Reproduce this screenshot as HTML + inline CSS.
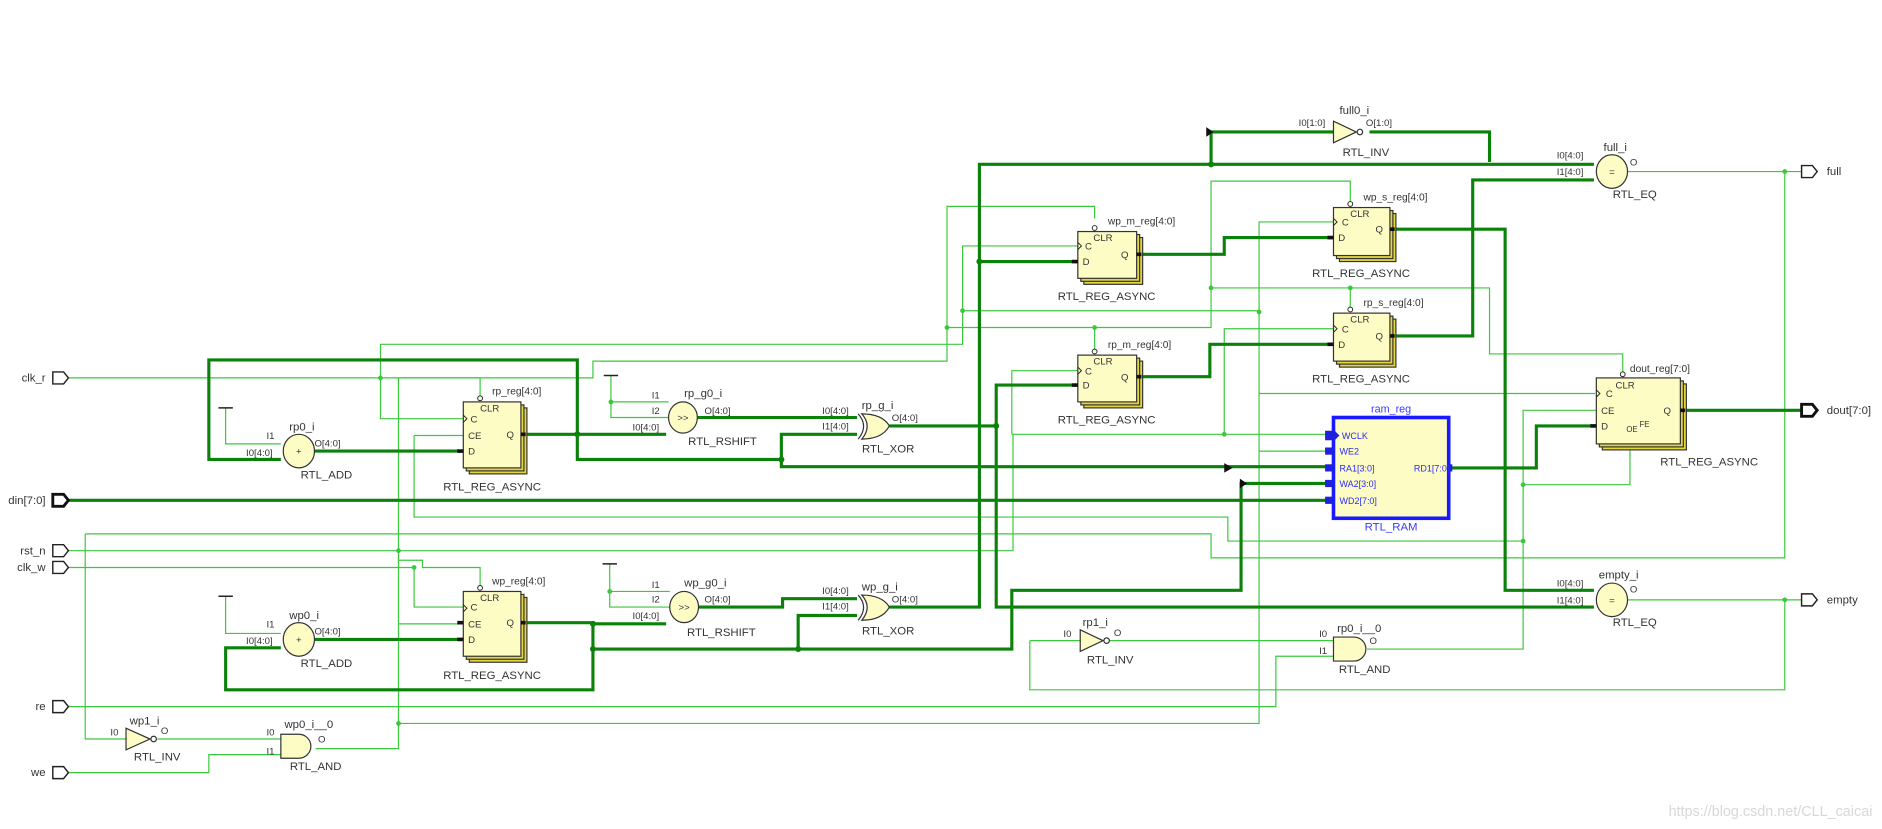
<!DOCTYPE html>
<html><head><meta charset="utf-8"><style>
html,body{margin:0;padding:0;background:#fff;}
svg{display:block;}
text{font-family:"Liberation Sans",sans-serif;fill:#333;}
.t{stroke:#3cc83c;stroke-width:1;fill:none;}
.k{stroke:#0a820a;stroke-width:2.6;fill:none;}
.p{font-size:8px;}
.l{font-size:9.5px;}
.rn{font-size:8.5px;}
.b{fill:#fdfcc4;stroke:#333;stroke-width:1;}
.s{fill:#e4d640;stroke:#333;stroke-width:1;}
.pin{stroke:#111;stroke-width:3;}
.pt{fill:#fff;stroke:#222;stroke-width:1.2;}
.ptk{fill:#fff;stroke:#111;stroke-width:2.4;}
.dot{fill:#3cc83c;}
.dk{fill:#0a820a;}
.bl{fill:#2020e0;}
</style></head><body>
<svg width="1882" height="829" viewBox="0 0 1568 691" preserveAspectRatio="none" xmlns="http://www.w3.org/2000/svg">
<rect width="1568" height="691" fill="#fff"/>

<g class="t">
<path d="M57,315 H494 V301 H789 V172 H912 V182"/>
<path d="M317,315 V287 H802 V205 H898"/>
<path d="M317,315 V349 H386"/>
<path d="M332,459 V315 H400 V330"/>
<path d="M332,459 V467 H352 V473 H400 V489"/>
<path d="M332,459 V624 H263"/>
<path d="M332,603 H1049 V185 H1111"/>
<path d="M1049,376 H1111"/>
<path d="M1049,328 H1329"/>
<path d="M802,259 H1049"/>
<path d="M789,273 H1009 V151 H1125 V170"/>
<path d="M912,273 V293"/>
<path d="M1009,240 H1241 V295 H1352 V313"/>
<path d="M1125,240 V258"/>
<path d="M843,362 V309 H898"/>
<path d="M843,362 H1111"/>
<path d="M1020,362 V274 H1111"/>
<path d="M57,459 H844 V362"/>
<path d="M57,473 H345 V506 H386"/>
<path d="M345,363 H386 M345,363 V431 H1023 V451 H1269"/>
<path d="M71,445 H1009 V465 H1487 V143"/>
<path d="M71,445 V616 H105"/>
<path d="M131,616 H234"/>
<path d="M57,644 H174 V629 H234"/>
<path d="M332,520 H386"/>
<path d="M57,589 H1063 V547 H1111"/>
<path d="M858,534 H900 M923,534 H1111"/>
<path d="M858,534 V575 H1487 V500"/>
<path d="M1139,541 H1269 V342 H1330"/>
<path d="M1269,404 H1358 V372"/>
<path d="M1356,143 H1501"/>
<path d="M1356,500 H1501"/>
<path d="M188,340 V370 H234"/>
<path d="M188,497 V528 H234"/>
<path d="M509,313 V348 H557 M509,335 H557"/>
<path d="M508,470 V506 H558 M508,493 H558"/>
</g>
<g stroke="#222" stroke-width="1.2">
<path d="M182,340 H194 M182,497 H194 M503,313 H515 M502,470 H514"/>
</g>

<g class="k">
<path d="M481,362 V300 H174 V383 H234"/>
<path d="M262,376 H386"/>
<path d="M434,362 H555"/>
<path d="M481,362 V383 H651 V389 H1111"/>
<path d="M651,383 V362 H714"/>
<path d="M581,348 H714"/>
<path d="M741,355 H830 V321 H898"/>
<path d="M830,355 V506 H1328"/>
<path d="M262,533 H386"/>
<path d="M434,519 H494 V575 H188 V540 H234"/>
<path d="M494,520 H555"/>
<path d="M494,541 H843 V492 H1034 V403 H1111"/>
<path d="M665,541 V513 H714"/>
<path d="M582,506 H652 V499 H714"/>
<path d="M741,506 H816 V137 H1328"/>
<path d="M816,218 H898"/>
<path d="M1009,137 V110 H1111 M1141,110 H1241 V135"/>
<path d="M947,212 H1020 V198 H1111"/>
<path d="M947,314 H1008 V287 H1111"/>
<path d="M1158,191 H1254 V492 H1328"/>
<path d="M1158,280 H1227 V150 H1328"/>
<path d="M57,417 H1111"/>
<path d="M1207,390 H1280 V355 H1330"/>
<path d="M1400,342 H1501"/>
</g>
<g class="dot">
<circle cx="317" cy="315" r="2"/><circle cx="332" cy="459" r="2"/><circle cx="345" cy="473" r="2"/><circle cx="332" cy="603" r="2"/>
<circle cx="789" cy="273" r="2"/><circle cx="802" cy="259" r="2"/><circle cx="912" cy="273" r="2"/><circle cx="1009" cy="240" r="2"/>
<circle cx="1125" cy="240" r="2"/><circle cx="1049" cy="260" r="2"/><circle cx="1020" cy="362" r="2"/><circle cx="1269" cy="404" r="2"/>
<circle cx="1269" cy="451" r="2"/><circle cx="1487" cy="143" r="2"/><circle cx="1487" cy="500" r="2"/><circle cx="509" cy="335" r="2"/><circle cx="508" cy="493" r="2"/>
</g>
<g class="dk">
<circle cx="481" cy="362" r="2.5"/><circle cx="651" cy="383" r="2.5"/><circle cx="816" cy="218" r="2.5"/><circle cx="830" cy="355" r="2.5"/>
<circle cx="494" cy="520" r="2.5"/><circle cx="494" cy="541" r="2.5"/><circle cx="665" cy="541" r="2.5"/><circle cx="1009" cy="137" r="2.5"/>
</g>
<g fill="#111"><polygon points="1005,106 1011,110 1005,114"/><polygon points="1020,386 1027,390 1020,394"/><polygon points="1033,399 1039,403 1033,407"/></g>

<g class="pt">
<polygon points="44,310 53,310 57,315 53,320 44,320"/>
<polygon points="44,454 53,454 57,459 53,464 44,464"/>
<polygon points="44,468 53,468 57,473 53,478 44,478"/>
<polygon points="44,584 53,584 57,589 53,594 44,594"/>
<polygon points="44,639 53,639 57,644 53,649 44,649"/>
<polygon points="1501,138 1510,138 1514,143 1510,148 1501,148"/>
<polygon points="1501,495 1510,495 1514,500 1510,505 1501,505"/>
</g>
<g class="ptk">
<polygon points="44,412 53,412 57,417 53,422 44,422"/>
<polygon points="1501,337 1510,337 1514,342 1510,347 1501,347"/>
</g>
<g class="l">
<text x="38" y="318" text-anchor="end">clk_r</text>
<text x="38" y="420" text-anchor="end">din[7:0]</text>
<text x="38" y="462" text-anchor="end">rst_n</text>
<text x="38" y="476" text-anchor="end">clk_w</text>
<text x="38" y="592" text-anchor="end">re</text>
<text x="38" y="647" text-anchor="end">we</text>
<text x="1522" y="146">full</text>
<text x="1522" y="345">dout[7:0]</text>
<text x="1522" y="503">empty</text>
</g>

<g>
<rect class="s" x="391" y="340" width="48" height="55"/><rect class="s" x="388.5" y="337.5" width="48" height="55"/><rect class="b" x="386" y="335" width="48" height="55"/>
<rect class="s" x="391" y="498" width="48" height="54"/><rect class="s" x="388.5" y="495.5" width="48" height="54"/><rect class="b" x="386" y="493" width="48" height="54"/>
<rect class="s" x="903" y="198" width="49" height="39"/><rect class="s" x="900.5" y="195.5" width="49" height="39"/><rect class="b" x="898" y="193" width="49" height="39"/>
<rect class="s" x="903" y="301" width="49" height="39"/><rect class="s" x="900.5" y="298.5" width="49" height="39"/><rect class="b" x="898" y="296" width="49" height="39"/>
<rect class="s" x="1116" y="178" width="47" height="40"/><rect class="s" x="1113.5" y="175.5" width="47" height="40"/><rect class="b" x="1111" y="173" width="47" height="40"/>
<rect class="s" x="1116" y="266" width="47" height="40"/><rect class="s" x="1113.5" y="263.5" width="47" height="40"/><rect class="b" x="1111" y="261" width="47" height="40"/>
<rect class="s" x="1335" y="320" width="70" height="55"/><rect class="s" x="1332.5" y="317.5" width="70" height="55"/><rect class="b" x="1330" y="315" width="70" height="55"/>
</g>
<g class="pin">
<path d="M381,376 H386 M434,362 H438 M381,519 H386 M381,533 H386 M434,519 H438 M893,218 H898 M947,212 H951 M893,321 H898 M947,314 H951 M1106,198 H1111 M1158,191 H1162 M1106,287 H1111 M1158,280 H1162 M1325,355 H1330 M1400,342 H1404"/>
</g>
<g fill="#fff" stroke="#222" stroke-width="0.8">
<circle cx="400" cy="332" r="2"/><circle cx="400" cy="490" r="2"/><circle cx="912" cy="190" r="2"/><circle cx="912" cy="293" r="2"/><circle cx="1125" cy="170" r="2"/><circle cx="1125" cy="258" r="2"/><circle cx="1352" cy="312" r="2"/>
</g>
<g class="p">
<text x="400" y="343">CLR</text><text x="392" y="352">C</text><text x="390" y="366">CE</text><text x="390" y="379">D</text><text x="422" y="365">Q</text>
<text x="400" y="501">CLR</text><text x="392" y="509">C</text><text x="390" y="523">CE</text><text x="390" y="536">D</text><text x="422" y="522">Q</text>
<text x="911" y="201">CLR</text><text x="904" y="208">C</text><text x="902" y="221">D</text><text x="934" y="215">Q</text>
<text x="911" y="304">CLR</text><text x="904" y="312">C</text><text x="902" y="324">D</text><text x="934" y="317">Q</text>
<text x="1125" y="181">CLR</text><text x="1118" y="188">C</text><text x="1115" y="201">D</text><text x="1146" y="194">Q</text>
<text x="1125" y="269">CLR</text><text x="1118" y="277">C</text><text x="1115" y="290">D</text><text x="1146" y="283">Q</text>
<text x="1346" y="324">CLR</text><text x="1338" y="331">C</text><text x="1334" y="345">CE</text><text x="1334" y="358">D</text><text x="1386" y="345">Q</text>
<text x="1355" y="360" font-size="6.5">OE</text><text x="1366" y="356" font-size="6.5">FE</text>
</g>
<g class="rn">
<text x="410" y="329">rp_reg[4:0]</text><text x="410" y="487">wp_reg[4:0]</text>
<text x="923" y="187">wp_m_reg[4:0]</text><text x="923" y="290">rp_m_reg[4:0]</text>
<text x="1136" y="167">wp_s_reg[4:0]</text><text x="1136" y="255">rp_s_reg[4:0]</text>
<text x="1358" y="310">dout_reg[7:0]</text>
</g>
<g fill="none" stroke="#222" stroke-width="0.8">
<path d="M386,346 L389,349 L386,352 M386,504 L389,507 L386,510 M898,202 L901,205 L898,208 M898,306 L901,309 L898,312 M1111,182 L1114,185 L1111,188 M1111,271 L1114,274 L1111,277 M1330,325 L1333,328 L1330,331"/>
</g>
<g class="l" text-anchor="middle">
<text x="410" y="409">RTL_REG_ASYNC</text><text x="410" y="566">RTL_REG_ASYNC</text>
<text x="922" y="250">RTL_REG_ASYNC</text><text x="922" y="353">RTL_REG_ASYNC</text>
<text x="1134" y="231">RTL_REG_ASYNC</text><text x="1134" y="319">RTL_REG_ASYNC</text>
<text x="1424" y="388">RTL_REG_ASYNC</text>
</g>

<g fill="#fdfcc4" stroke="#333" stroke-width="1">
<ellipse cx="249" cy="376" rx="13" ry="14"/><ellipse cx="249" cy="533" rx="13" ry="14"/>
<ellipse cx="569" cy="348" rx="12" ry="13"/><ellipse cx="570" cy="506" rx="12" ry="13"/>
<ellipse cx="1343" cy="143" rx="13" ry="14"/><ellipse cx="1343" cy="500" rx="13" ry="14"/>
<path d="M718,345 Q727,355 718,366 Q735,366 741,355 Q735,345 718,345 Z"/>
<path d="M718,496 Q727,506 718,517 Q735,517 741,506 Q735,496 718,496 Z"/>
<path d="M234,612 H249 A10,10 0 0 1 249,632 H234 Z"/>
<path d="M1111,531 H1128 A10,10 0 0 1 1128,551 H1111 Z"/>
<polygon points="105,607 125,616 105,625"/><polygon points="900,525 919,534 900,543"/><polygon points="1111,101 1130,110 1111,119"/>
</g>
<g fill="none" stroke="#333"><path d="M715,345 Q724,355 715,366 M715,496 Q724,506 715,517"/></g>
<g fill="#fff" stroke="#333"><circle cx="128" cy="616" r="2.3"/><circle cx="922" cy="534" r="2.3"/><circle cx="1133" cy="110" r="2.3"/></g>
<g class="p" text-anchor="middle">
<text x="249" y="379">+</text><text x="249" y="536">+</text><text x="569" y="351">&gt;&gt;</text><text x="570" y="509">&gt;&gt;</text>
<text x="1343" y="146">=</text><text x="1343" y="503">=</text>
</g>
<g class="p">
<text x="222" y="366">I1</text><text x="205" y="380">I0[4:0]</text><text x="262" y="372">O[4:0]</text><text x="241" y="359" class="l">rp0_i</text>
<text x="222" y="523">I1</text><text x="205" y="537">I0[4:0]</text><text x="262" y="529">O[4:0]</text><text x="241" y="516" class="l">wp0_i</text>
<text x="543" y="332">I1</text><text x="543" y="345">I2</text><text x="527" y="359">I0[4:0]</text><text x="587" y="345">O[4:0]</text><text x="570" y="331" class="l">rp_g0_i</text>
<text x="543" y="490">I1</text><text x="543" y="502">I2</text><text x="527" y="516">I0[4:0]</text><text x="587" y="502">O[4:0]</text><text x="570" y="489" class="l">wp_g0_i</text>
<text x="685" y="345">I0[4:0]</text><text x="685" y="358">I1[4:0]</text><text x="743" y="351">O[4:0]</text><text x="718" y="341" class="l">rp_g_i</text>
<text x="685" y="495">I0[4:0]</text><text x="685" y="508">I1[4:0]</text><text x="743" y="502">O[4:0]</text><text x="718" y="492" class="l">wp_g_i</text>
<text x="1297" y="132">I0[4:0]</text><text x="1297" y="146">I1[4:0]</text><text x="1358" y="138">O</text><text x="1336" y="126" class="l">full_i</text>
<text x="1297" y="489">I0[4:0]</text><text x="1297" y="503">I1[4:0]</text><text x="1358" y="494">O</text><text x="1332" y="482" class="l">empty_i</text>
<text x="1082" y="105">I0[1:0]</text><text x="1138" y="105">O[1:0]</text><text x="1116" y="95" class="l">full0_i</text>
<text x="92" y="613">I0</text><text x="134" y="612">O</text><text x="108" y="604" class="l">wp1_i</text>
<text x="886" y="531">I0</text><text x="928" y="530">O</text><text x="902" y="522" class="l">rp1_i</text>
<text x="222" y="613">I0</text><text x="222" y="629">I1</text><text x="265" y="619">O</text><text x="237" y="607" class="l">wp0_i__0</text>
<text x="1099" y="531">I0</text><text x="1099" y="545">I1</text><text x="1141" y="537">O</text><text x="1114" y="527" class="l">rp0_i__0</text>
</g>
<g class="l" text-anchor="middle">
<text x="272" y="399">RTL_ADD</text><text x="272" y="556">RTL_ADD</text>
<text x="602" y="371">RTL_RSHIFT</text><text x="601" y="530">RTL_RSHIFT</text>
<text x="740" y="377">RTL_XOR</text><text x="740" y="529">RTL_XOR</text>
<text x="1362" y="165">RTL_EQ</text><text x="1362" y="522">RTL_EQ</text>
<text x="1138" y="130">RTL_INV</text><text x="131" y="634">RTL_INV</text><text x="925" y="553">RTL_INV</text>
<text x="263" y="642">RTL_AND</text><text x="1137" y="561">RTL_AND</text>
</g>

<rect x="1111" y="348" width="96" height="84" fill="#fdfcc4" stroke="#1a1aff" stroke-width="3"/>
<g class="bl">
<polygon points="1104,359 1112,359 1116,363 1112,367 1104,367"/>
<rect x="1104" y="373" width="7" height="6"/><rect x="1104" y="387" width="7" height="6"/><rect x="1104" y="400" width="7" height="6"/><rect x="1104" y="414" width="7" height="6"/>
<rect x="1207" y="387" width="3" height="6"/>
</g>
<g font-size="7.5">
<text x="1118" y="366" style="fill:#2a2aff">WCLK</text><text x="1116" y="379" style="fill:#2a2aff">WE2</text><text x="1116" y="393" style="fill:#2a2aff">RA1[3:0]</text>
<text x="1116" y="406" style="fill:#2a2aff">WA2[3:0]</text><text x="1116" y="420" style="fill:#2a2aff">WD2[7:0]</text><text x="1178" y="393" style="fill:#2a2aff">RD1[7:0]</text>
</g>
<text x="1159" y="344" text-anchor="middle" font-size="9" style="fill:#3a3aff">ram_reg</text>
<text x="1159" y="442" text-anchor="middle" font-size="9.5" style="fill:#3a3aff">RTL_RAM</text>

<text x="1560" y="680" text-anchor="end" font-size="12" style="fill:#d8d8d8">https://blog.csdn.net/CLL_caicai</text>
</svg>
</body></html>
